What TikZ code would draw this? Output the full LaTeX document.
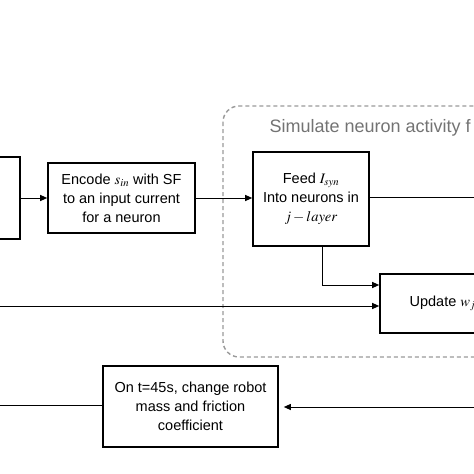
\documentclass[tikz,border=0pt]{standalone}
\usepackage{mathptmx}
\usepackage{fontspec}
\setmainfont{Liberation Sans}
\usetikzlibrary{arrows.meta}
\begin{document}
\begin{tikzpicture}[x=1pt, y=-1pt,
    box/.style={draw, line width=1.6pt, align=center, inner sep=0pt,
        font=\fontsize{14.5}{19}\selectfont},
    conn/.style={line width=1pt, -{Triangle[length=7pt,width=6pt]}}]
    % page size of the reference
    \useasboundingbox (0,0) rectangle (474,474);
    \clip (0,0) rectangle (474,474);
    % Group frame, cut at the right edge
    \draw[gray!80, line width=1.4pt, dash pattern=on 4pt off 3pt, rounded corners=16pt]
        (223,106) rectangle (560,357);
    \node[gray!90!black, anchor=west, font=\fontsize{18}{19}\selectfont] (title) at (266,128)
        {Simulate neuron activity f};
    % Boxes
    \node[box, minimum width=100pt, minimum height=82pt] (input) at (-30,198) {};
    \node[box, minimum width=147pt, minimum height=70pt] (encode) at (121.5,198)
        {Encode $s_{in}$ with SF\\to an input current\\for a neuron};
    \node[box, minimum width=116pt, minimum height=94pt] (feed) at (311,199)
        {Feed $I_{syn}$\\Into neurons in\\$j-layer$};
    \node[box, minimum width=130pt, minimum height=59pt] (update) at (445,303.5)
        {Update $w_{jk}$};
    \node[box, minimum width=175pt, minimum height=81pt] (change) at (190.5,406.5)
        {On t=45s, change robot\\mass and friction\\coefficient};
    % Free ends beyond the edges
    \coordinate (fb) at (-5,306);
    \coordinate (out) at (480,197);
    \coordinate (back) at (480,407);
    \coordinate (left) at (-5,405);
    % Connectors
    \draw[conn] (input.east |- encode.west) -- (encode.west);
    \draw[conn] (encode.east) -- (encode.east -| feed.west);
    \draw[line width=1pt] (feed.east |- out) -- (out);
    \draw[conn] ([xshift=11pt]feed.south) |- ([yshift=18.5pt]update.west);
    \draw[conn] (fb) -- (fb -| update.west);
    \draw[conn] (back) -- ([xshift=5pt]change.east |- back);
    \draw[line width=1pt] (left) -- (left -| change.west);
\end{tikzpicture}
\end{document}
